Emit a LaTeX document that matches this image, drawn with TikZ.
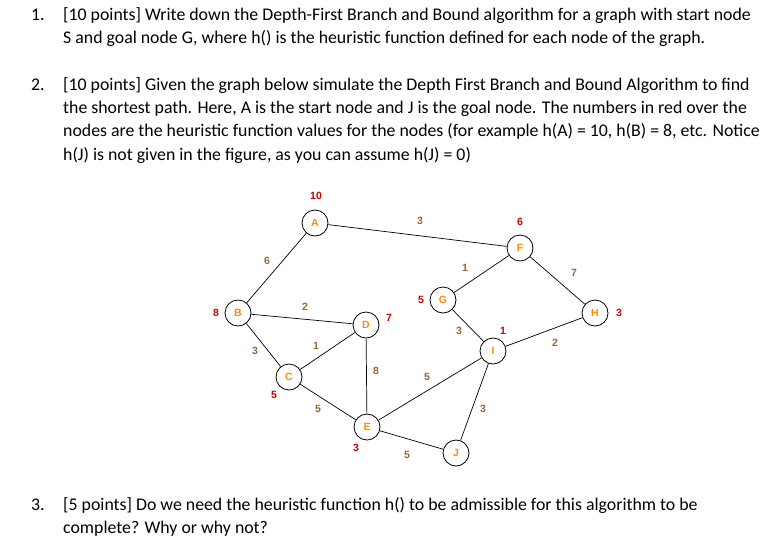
\documentclass[tikz,border=0pt]{standalone}
\usepackage{fontspec}
\setmainfont{Carlito}
\newfontfamily\lab{Liberation Sans}
\begin{document}
\begin{tikzpicture}[x=1pt,y=-1pt,
  vtx/.style={circle,draw,line width=0.8pt,minimum size=26pt,inner sep=0pt,font=\lab\bfseries\fontsize{10.5}{10.5}\selectfont,text=orange!90!yellow,fill=white},
  hv/.style={font=\lab\bfseries\fontsize{10.5}{10.5}\selectfont,text=red!80!black},
  wt/.style={font=\lab\bfseries\fontsize{10.5}{10.5}\selectfont,text=brown!80!black},
  edge/.style={line width=0.7pt},
  ln/.style={anchor=base west,inner sep=0pt,font=\fontsize{17.8}{17.8}\selectfont}]
\useasboundingbox (0,0) rectangle (778,550);
\node[ln] (n1) at (31,20) {1.};
\node[ln] (l1) at (63,20) {[10 points] Write down the Depth-First Branch and Bound algorithm for a graph with start node};
\node[ln] (l2) at (63,43) {S and goal node G, where h() is the heuristic function defined for each node of the graph.};
\node[ln] (n2) at (31,90) {2.};
\node[ln] (l3) at (63,90) {[10 points] Given the graph below simulate the Depth First Branch and Bound Algorithm to find};
\node[ln] (l4) at (63,113) {the shortest path. Here, A is the start node and J is the goal node. The numbers in red over the};
\node[ln] (l5) at (63,136) {nodes are the heuristic function values for the nodes (for example h(A) = 10, h(B) = 8, etc. Notice};
\node[ln] (l6) at (63,160) {h(J) is not given in the figure, as you can assume h(J) = 0)};
\node[ln] (n3) at (31,510) {3.};
\node[ln] (l7) at (63,510) {[5 points] Do we need the heuristic function h() to be admissible for this algorithm to be};
\node[ln] (l8) at (63,533) {complete? Why or why not?};

\node[vtx] (A) at (315,223) {A};
\node[vtx] (F) at (520,248) {F};
\node[vtx] (B) at (238,313) {B};
\node[vtx] (D) at (366,325) {D};
\node[vtx] (G) at (443,300) {G};
\node[vtx] (H) at (595,313) {H};
\node[vtx] (I) at (493,351) {I};
\node[vtx] (C) at (289,377) {C};
\node[vtx] (E) at (367,427) {E};
\node[vtx] (J) at (456,453) {J};
\draw[edge] (A)--(F) (A)--(B) (F)--(G) (F)--(H) (B)--(D) (B)--(C) (C)--(D) (D)--(E)
  (C)--(E) (G)--(I) (H)--(I) (I)--(E) (I)--(J) (E)--(J);
\node[hv] (hA) at (316,196) {10};
\node[hv] (hF) at (520,222) {6};
\node[hv] (hB) at (216,313) {8};
\node[hv] (hD) at (389,318) {7};
\node[hv] (hG) at (421,300) {5};
\node[hv] (hH) at (619,313) {3};
\node[hv] (hI) at (503,331) {1};
\node[hv] (hC) at (274,395) {5};
\node[hv] (hE) at (356,448) {3};
\node[wt] (w1) at (420,221) {3};
\node[wt] (w2) at (267,261) {6};
\node[wt] (w3) at (465,268) {1};
\node[wt] (w4) at (574,273) {7};
\node[wt] (w5) at (305,307) {2};
\node[wt] (w6) at (255,351) {3};
\node[wt] (w7) at (316,346) {1};
\node[wt] (w8) at (459,331) {3};
\node[wt] (w9) at (555,343) {2};
\node[wt] (w10) at (376,371) {8};
\node[wt] (w11) at (427,377) {5};
\node[wt] (w12) at (318,409) {5};
\node[wt] (w13) at (483,409) {3};
\node[wt] (w14) at (407,455) {5};
\end{tikzpicture}
\end{document}
